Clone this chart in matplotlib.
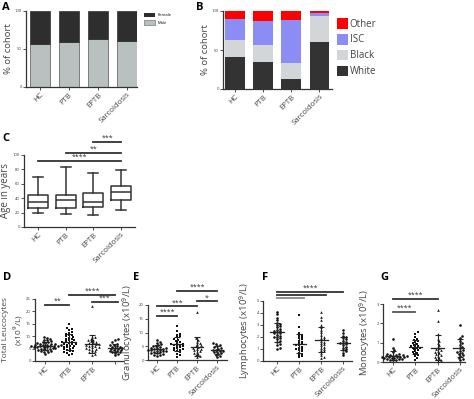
import numpy as np
import matplotlib
matplotlib.use('Agg')
import matplotlib.pyplot as plt
from matplotlib.patches import Patch

plt.rcParams['font.family'] = ['Open Sans', 'DejaVu Sans']

groups = ['HC', 'PTB', 'EPTB', 'Sarcoidosis']

# A: sex (% of cohort)
male = [56, 59, 63, 61]
female = [44, 41, 37, 39]

# B: ethnicity (% of cohort)
white = [41, 34, 13, 60]
black = [22, 22, 20, 33]
isc = [27, 31, 55, 5]
other = [10, 13, 12, 2]

# C: age box plot (whisker low, Q1, median, Q3, whisker high)
age_stats = [
    [19.5, 26.5, 35, 45, 70],
    [18.6, 26.5, 38, 45, 84],
    [17, 28, 35, 47, 75],
    [23, 37, 48, 57, 79],
]

# D-G: cell counts (x10^9/L)
leuco = [
    [3.0, 3.5, 3.8, 4.0, 4.2, 4.5, 4.6, 4.8, 5.0, 5.0, 5.2, 5.3, 5.5, 5.5, 5.6, 5.8, 5.9, 6.0, 6.0,
     6.1, 6.2, 6.3, 6.4, 6.5, 6.6, 6.8, 6.9, 7.0, 7.2, 7.4, 7.5, 7.8, 8.0, 8.3, 8.6, 9.0, 9.3, 9.6],
    [2.5, 3.0, 3.3, 3.6, 4.0, 4.2, 4.5, 4.8, 5.0, 5.3, 5.5, 5.8, 6.0, 6.2, 6.5, 6.8, 7.0, 7.0, 7.3,
     7.5, 7.8, 8.0, 8.3, 8.5, 8.8, 9.0, 9.3, 9.6, 10.0, 10.3, 10.5, 11.0, 11.3, 11.8, 12.3, 12.8, 13.2, 15.0],
    [2.3, 3.0, 3.5, 3.8, 4.2, 4.5, 4.8, 5.0, 5.2, 5.5, 5.7, 6.0, 6.2, 6.4, 6.6, 6.8, 7.0, 7.2, 7.5,
     7.8, 8.0, 8.3, 8.6, 9.0, 9.5, 9.8, 22.0],
    [2.3, 3.0, 3.3, 3.6, 3.8, 4.0, 4.2, 4.4, 4.6, 4.8, 5.0, 5.2, 5.4, 5.6, 5.8, 6.0, 6.3, 6.6, 7.0, 7.5, 8.3, 9.0],
]
granulo = [
    [1.5, 1.8, 2.0, 2.2, 2.4, 2.6, 2.8, 3.0, 3.1, 3.2, 3.4, 3.5, 3.6, 3.8, 3.9, 4.0, 4.2, 4.3, 4.5,
     4.7, 5.0, 5.2, 5.5, 5.8, 6.2, 6.6, 7.3],
    [1.2, 1.8, 2.3, 2.8, 3.2, 3.5, 3.8, 4.0, 4.3, 4.5, 4.7, 5.0, 5.2, 5.4, 5.6, 5.8, 6.0, 6.3, 6.6,
     7.0, 7.4, 7.8, 8.2, 8.7, 9.2, 9.6, 10.4, 12.4],
    [1.0, 1.4, 1.8, 2.2, 2.6, 3.0, 3.3, 3.6, 3.9, 4.1, 4.4, 4.7, 5.0, 5.3, 5.7, 6.1, 6.6, 7.3, 7.9, 17.3],
    [1.2, 1.6, 2.0, 2.3, 2.5, 2.8, 3.0, 3.2, 3.4, 3.6, 3.8, 4.0, 4.3, 4.6, 5.0, 5.5, 5.8, 6.1],
]
lympho = [
    [1.0, 1.1, 1.3, 1.4, 1.6, 1.7, 1.8, 1.9, 2.0, 2.0, 2.1, 2.2, 2.3, 2.3, 2.4, 2.5, 2.5, 2.6, 2.7,
     2.8, 2.9, 3.0, 3.1, 3.2, 3.4, 3.6, 3.9, 4.1],
    [0.3, 0.4, 0.5, 0.6, 0.7, 0.8, 0.9, 1.0, 1.0, 1.1, 1.2, 1.3, 1.3, 1.4, 1.5, 1.6, 1.7, 1.8, 1.9,
     2.0, 2.1, 2.2, 2.3, 2.8, 3.8],
    [0.25, 0.3, 0.5, 0.7, 0.8, 0.9, 1.0, 1.1, 1.2, 1.3, 1.4, 1.5, 1.6, 1.7, 1.8, 1.9, 2.0, 2.2, 2.4,
     2.6, 2.8, 3.0, 3.4, 3.7, 4.1],
    [0.5, 0.7, 0.8, 0.9, 1.0, 1.1, 1.2, 1.3, 1.4, 1.5, 1.5, 1.6, 1.7, 1.8, 1.9, 2.0, 2.1, 2.3, 2.6],
]
mono = [
    [0.08, 0.1, 0.12, 0.15, 0.17, 0.18, 0.2, 0.2, 0.22, 0.24, 0.25, 0.26, 0.27, 0.28, 0.3, 0.3, 0.32,
     0.34, 0.36, 0.38, 0.4, 0.43, 0.5, 0.6, 0.7, 1.2],
    [0.1, 0.2, 0.3, 0.35, 0.4, 0.45, 0.5, 0.55, 0.6, 0.65, 0.7, 0.72, 0.75, 0.8, 0.82, 0.85, 0.9,
     0.95, 1.0, 1.05, 1.1, 1.15, 1.2, 1.3, 1.45, 1.54],
    [0.05, 0.1, 0.15, 0.2, 0.25, 0.3, 0.35, 0.4, 0.45, 0.5, 0.55, 0.6, 0.65, 0.7, 0.8, 0.9, 1.0,
     1.1, 1.2, 1.45, 2.1, 2.7],
    [0.1, 0.15, 0.2, 0.3, 0.35, 0.4, 0.45, 0.5, 0.55, 0.6, 0.7, 0.8, 0.9, 1.0, 1.1, 1.25, 1.37, 1.9],
]

W, H = 474, 399
fig = plt.figure(figsize=(W / 100, H / 100), dpi=100)


def add_ax(left, top, right, bottom):
    ax = fig.add_axes([left / W, 1 - bottom / H, (right - left) / W, (bottom - top) / H])
    ax.spines['top'].set_visible(False)
    ax.spines['right'].set_visible(False)
    for s in ['left', 'bottom']:
        ax.spines[s].set_linewidth(0.9)
        ax.spines[s].set_color('#333333')
    ax.tick_params(axis='y', labelsize=3, length=2, width=0.6, pad=1, colors='#333333')
    ax.tick_params(axis='x', labelsize=5.6, length=2, width=0.6, pad=1, colors='#333333')
    ax.set_xticks(range(4))
    ax.set_xticklabels(groups, rotation=45, ha='right', rotation_mode='anchor', color='#444444')
    return ax


def sig(ax, x0, x1, y, text, color='#333333'):
    ax.plot([x0, x1], [y, y], color=color, lw=1.3, clip_on=False)
    if text:
        ax.text((x0 + x1) / 2, y, text, ha='center', va='bottom',
                fontsize=5, color='#333333', clip_on=False)


# ---- A ----
axA = add_ax(26, 11, 137, 87)
x = np.arange(4)
axA.bar(x, male, 0.69, color='#b9c0c0', edgecolor='#555555', linewidth=0.5)
axA.bar(x, female, 0.69, bottom=male, color='#2e2e2e', edgecolor='#2e2e2e', linewidth=0.5)
axA.set_xlim(-0.48, 3.34)
axA.set_ylim(0, 100)
axA.set_yticks([0, 50, 100])
axA.set_ylabel('% of cohort', fontsize=6.8, color='#444444', labelpad=1.5)
axA.legend([Patch(fc='#2e2e2e'), Patch(fc='#b9c0c0', ec='#777777', lw=0.5)], ['Female', 'Male'],
           loc='upper left', bbox_to_anchor=(1.05, 1.0), frameon=False, fontsize=3,
           handlelength=2.5, handleheight=1.4, labelspacing=0.6, borderaxespad=0)

# ---- B ----
axB = add_ax(223, 11, 332, 89)
b1 = np.array(white)
b2 = b1 + np.array(black)
b3 = b2 + np.array(isc)
axB.bar(x, white, 0.7, color='#333333')
axB.bar(x, black, 0.7, bottom=b1, color='#d3d6d9')
axB.bar(x, isc, 0.7, bottom=b2, color='#8c8cf5')
axB.bar(x, other, 0.7, bottom=b3, color='#ff0000')
axB.set_xlim(-0.43, 3.45)
axB.set_ylim(0, 100)
axB.set_yticks([0, 50, 100])
axB.set_ylabel('% of cohort', fontsize=6.8, color='#444444', labelpad=1.5)
axB.legend([Patch(fc='#ff0000'), Patch(fc='#8c8cf5'), Patch(fc='#d3d6d9'), Patch(fc='#333333')],
           ['Other', 'ISC', 'Black', 'White'], loc='upper left', bbox_to_anchor=(1.01, 0.96),
           frameon=False, fontsize=7, handlelength=1.1, handleheight=1.3, handletextpad=0.2,
           labelspacing=0.45, borderaxespad=0, labelcolor='#444444')

# ---- C ----
axC = add_ax(24, 155, 135, 227)
stats = [dict(whislo=s[0], q1=s[1], med=s[2], q3=s[3], whishi=s[4], label=g)
         for s, g in zip(age_stats, groups)]
lp = dict(color='#333333', linewidth=1.1)
axC.bxp(stats, positions=x, widths=0.72, showfliers=False, boxprops=lp, medianprops=lp,
        whiskerprops=lp, capprops=lp)
axC.set_xticks(range(4))
axC.set_xticklabels(groups, rotation=45, ha='right', rotation_mode='anchor', color='#444444')
axC.set_xlim(-0.5, 3.5)
axC.set_ylim(0, 100)
axC.set_yticks([0, 20, 40, 60, 80, 100])
axC.set_ylabel('Age in years', fontsize=7, color='#444444', labelpad=1)
sig(axC, 0, 3, 92, '****')
sig(axC, 1, 3, 103, '**')
sig(axC, 2, 3, 118.5, '***')


def swarm(ax, vals, pos, marker, d_px=2.6):
    ax_w = ax.get_position().width * W
    ax_h = ax.get_position().height * H
    x0, x1 = ax.get_xlim()
    y0, y1 = ax.get_ylim()
    xs = ax_w / (x1 - x0)
    ys = ax_h / (y1 - y0)
    placed = []
    xo = []
    for v in vals:
        yp = v * ys
        k = 0
        while True:
            cands = [0] if k == 0 else [k * d_px * 0.55, -k * d_px * 0.55]
            ok = None
            for c in cands:
                if all((c - px) ** 2 + (yp - py) ** 2 >= d_px ** 2 * 0.8 for px, py in placed):
                    ok = c
                    break
            if ok is not None:
                placed.append((ok, yp))
                xo.append(pos + ok / xs)
                break
            k += 1
    ax.scatter(xo, vals, s=3.5, marker=marker, color='#111111', linewidths=0, zorder=3,
               clip_on=False)
    m = np.mean(vals)
    sd = np.std(vals)
    ax.errorbar([pos], [m], yerr=[sd], color='#222222', lw=0.8, capsize=2.5, capthick=0.8,
                zorder=4)
    ax.plot([pos - 0.3, pos + 0.3], [m, m], color='#222222', lw=0.9, zorder=4)


markers = ['o', 's', '^', 'o']


def scatter_panel(ax, data, xl, yl, yticks):
    ax.set_xlim(*xl)
    ax.set_ylim(*yl)
    ax.set_yticks(yticks)
    for i, vals in enumerate(data):
        swarm(ax, vals, i, markers[i])


# ---- D ----
axD = add_ax(35, 299, 123, 361)
scatter_panel(axD, leuco, (-0.45, 3.33), (0, 25), [0, 5, 10, 15, 20, 25])
axD.set_xticklabels(['HC', 'PTB', 'EPTB', ''])
axD.set_ylabel('Total Leucocytes\n(x10$^9$/L)', fontsize=6, color='#444444', labelpad=1,
               linespacing=1.2)
sig(axD, 0, 1, 22.6, '**')
sig(axD, 1, 3, 26.6, '****')
sig(axD, 2, 3.1, 23.9, '***')

# ---- E ----
axE = add_ax(148, 305, 227, 360)
scatter_panel(axE, granulo, (-0.45, 3.5), (0, 20), [0, 5, 10, 15, 20])
axE.set_ylabel('Granulocytes (x10$^9$/L)', fontsize=6.8, color='#444444', labelpad=3)
sig(axE, 0, 1, 16.1, '****')
sig(axE, 0, 2, 19.5, '***')
sig(axE, 2, 3, 21.3, '*')
sig(axE, 1, 3, 25.2, '****')

# ---- F ----
axF = add_ax(263, 301, 352, 361)
scatter_panel(axF, lympho, (-0.64, 3.4), (0, 5), [0, 1, 2, 3, 4, 5])
axF.set_ylabel('Lymphocytes (x10$^9$/L)', fontsize=6.8, color='#444444', labelpad=3)
sig(axF, 0, 1.2, 5.25, '', color='#888888')
sig(axF, 0, 2.2, 5.5, '')
sig(axF, 0, 3, 5.75, '****')

# ---- G ----
axG = add_ax(383, 304, 465, 362)
scatter_panel(axG, mono, (-0.45, 3.22), (0, 3), [0, 1, 2, 3])
axG.set_ylabel('Monocytes (x10$^9$/L)', fontsize=6.8, color='#444444', labelpad=3)
sig(axG, 0, 1, 2.6, '****', color='#555555')
sig(axG, 0, 2, 3.25, '****')

# panel letters
for lab, px, py in [('A', 2, 2), ('B', 196, 2), ('C', 2, 133), ('D', 3, 272), ('E', 133, 272),
                    ('F', 262, 272), ('G', 380, 272)]:
    fig.text(px / W, 1 - py / H, lab, fontsize=8, fontweight='bold', va='top', ha='left')

fig.savefig('out.png', dpi=100)
